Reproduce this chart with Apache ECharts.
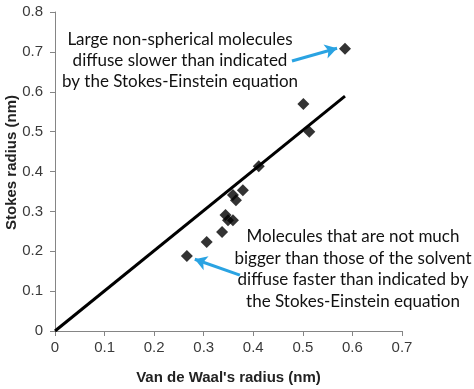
<!DOCTYPE html>
<html>
<head>
<meta charset="utf-8">
<script src="https://cdn.jsdelivr.net/npm/echarts@6/dist/echarts.min.js"></script>
<style>
html,body{margin:0;padding:0;background:#fff;}
#c{width:474px;height:389px;}
</style>
</head>
<body>
<div id="c"></div>
<script>
// Data
var vdwRadius = [0.266, 0.306, 0.337, 0.344, 0.349, 0.359, 0.359, 0.365, 0.379, 0.411, 0.501, 0.513, 0.585];
var stokesRadius = [0.188, 0.223, 0.248, 0.291, 0.278, 0.278, 0.341, 0.328, 0.353, 0.413, 0.569, 0.500, 0.708];
var fitLineX = [0, 0.585];
var fitLineY = [0, 0.589];
var xTicks = [0, 0.1, 0.2, 0.3, 0.4, 0.5, 0.6, 0.7];
var yTicks = [0, 0.1, 0.2, 0.3, 0.4, 0.5, 0.6, 0.7, 0.8];
var arrowUpper = [[0.478, 0.677], [0.569, 0.709]];
var arrowLower = [[0.373, 0.140], [0.282, 0.180]];
var noteUpper = ['Large non-spherical molecules', 'diffuse slower than indicated', 'by the Stokes-Einstein equation'];
var noteLower = ['Molecules that are not much', 'bigger than those of the solvent', 'diffuse faster than indicated by', 'the Stokes-Einstein equation'];

var chart = echarts.init(document.getElementById('c'));
var axisCol = '#858585';
var labelCol = '#3a3a3a';
var arrowCol = '#2aa3e2';

var scatterData = vdwRadius.map(function(x, i){ return [x, stokesRadius[i]]; });
var lineData = fitLineX.map(function(x, i){ return [x, fitLineY[i]]; });

chart.setOption({
  animation: false,
  grid: {left: 55, right: 72, top: 12, bottom: 58, containLabel: false, outerBoundsMode: 'none'},
  xAxis: {
    type: 'value', min: xTicks[0], max: xTicks[xTicks.length-1], interval: 0.1,
    name: "Van de Waal's radius (nm)", nameLocation: 'middle', nameGap: 39, nameMoveOverlap: false,
    nameTextStyle: {fontFamily: 'Liberation Sans', fontWeight: 'bold', fontSize: 15, color: '#222'},
    axisLine: {lineStyle: {color: axisCol, width: 1}},
    axisTick: {show: true, length: 5, lineStyle: {color: axisCol}},
    axisLabel: {fontFamily: 'Liberation Sans', fontSize: 15, color: labelCol, margin: 9,
      formatter: function(v){ return String(+v.toFixed(1)); }},
    splitLine: {show: false}
  },
  yAxis: {
    type: 'value', min: yTicks[0], max: yTicks[yTicks.length-1], interval: 0.1,
    name: 'Stokes radius (nm)', nameLocation: 'middle', nameGap: 36, nameMoveOverlap: false,
    nameTextStyle: {fontFamily: 'Liberation Sans', fontWeight: 'bold', fontSize: 15, color: '#222', padding: [0,0,0,18]},
    axisLine: {show: true, lineStyle: {color: axisCol, width: 1}},
    axisTick: {show: true, length: 5, lineStyle: {color: axisCol}},
    axisLabel: {fontFamily: 'Liberation Sans', fontSize: 15, color: labelCol, margin: 12,
      formatter: function(v){ return String(+v.toFixed(1)); }},
    splitLine: {show: false}
  },
  series: [
    {
      type: 'line', data: lineData, symbol: 'none', z: 2,
      lineStyle: {color: '#000', width: 3},
      markLine: {
        silent: true, symbol: ['none', 'arrow'], symbolSize: [11, 12],
        label: {show: false},
        lineStyle: {color: arrowCol, width: 3, type: 'solid'},
        data: [
          [{coord: arrowUpper[0]}, {coord: arrowUpper[1]}],
          [{coord: arrowLower[0]}, {coord: arrowLower[1]}]
        ]
      }
    },
    {
      type: 'scatter', data: scatterData, symbol: 'diamond', symbolSize: 12, z: 3,
      itemStyle: {color: '#000'}
    }
  ],
  graphic: [
    {type: 'text', x: 180, y: 29, style: {text: noteUpper.join('\n'), font: '17px Lato', fill: '#111', align: 'center', lineHeight: 21}},
    {type: 'text', x: 353, y: 226, style: {text: noteLower.join('\n'), font: '17px Lato', fill: '#111', align: 'center', lineHeight: 21.5}}
  ]
});
</script>
</body>
</html>
